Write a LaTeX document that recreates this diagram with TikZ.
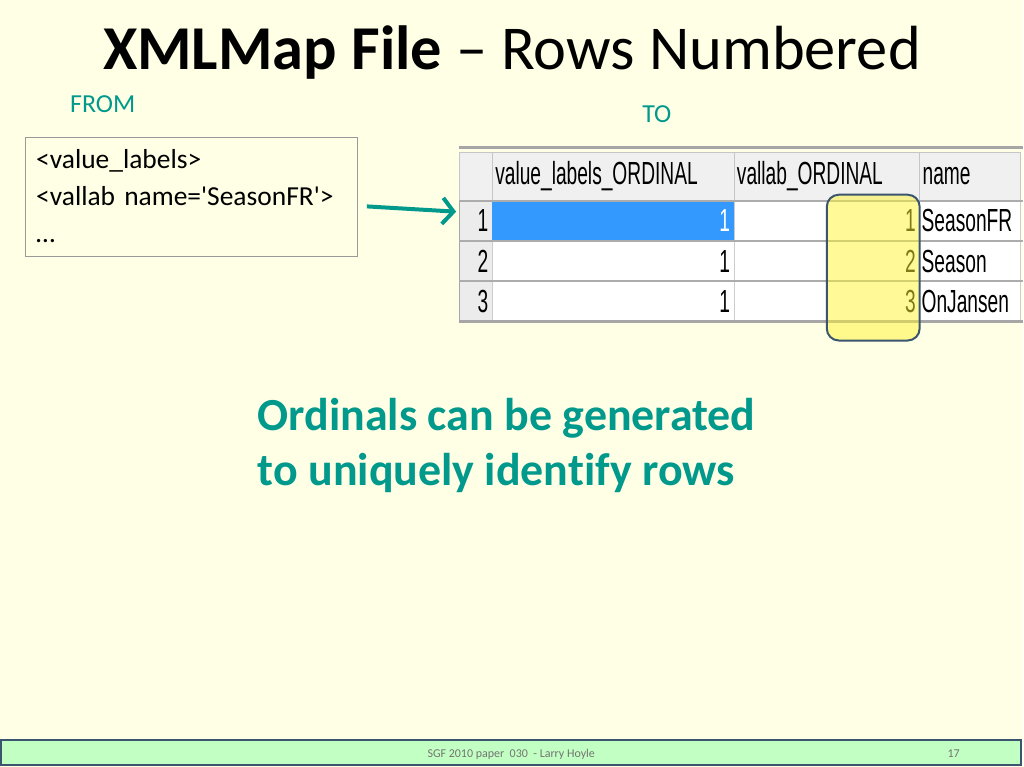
\documentclass[tikz,border=0pt]{standalone}
\usepackage{fontspec}
\setmainfont{Carlito}[Ligatures={TeX,NoCommon}]
\newfontfamily\gridfont[FakeStretch=0.6]{Liberation Sans}
\usetikzlibrary{arrows.meta}
\definecolor{slidebg}{RGB}{255,255,229}
\definecolor{tealtext}{RGB}{0,153,140}
\definecolor{footgreen}{RGB}{194,255,194}
\definecolor{slateline}{RGB}{60,85,110}
\definecolor{selblue}{RGB}{51,153,255}
\begin{document}
\begin{tikzpicture}[x=1pt,y=-1pt,
    hdrcell/.style={draw=gray!45,fill=gray!12,minimum height=48,inner xsep=3,anchor=center,font=\gridfont\fontsize{32}{32}\selectfont},
    numcell/.style={draw=gray!70,fill=gray!15,minimum height=40,inner xsep=4,text width=25,align=right,font=\gridfont\fontsize{32}{32}\selectfont},
    datacell/.style={draw=gray!40,fill=white,minimum height=40,inner xsep=4,font=\gridfont\fontsize{32}{32}\selectfont}]
        \fill[slidebg](0,0)rectangle(1024,768);
        \node[anchor=base west,inner sep=0,font=\fontsize{62.5}{70}\selectfont](title)at(103,70){\textbf{XMLMap File} – Rows Numbered};
        \node[anchor=base west,inner sep=0,text=tealtext,font=\fontsize{26}{30}\selectfont](from)at(70,113){FROM};
        \node[anchor=base west,inner sep=0,text=tealtext,font=\fontsize{26}{30}\selectfont](to)at(643,123){TO};
        \node[draw=gray!80,fill=slidebg,anchor=north west,minimum width=333,minimum height=119,inner xsep=11,inner ysep=1,align=left,text width=311,font=\fontsize{27.5}{37}\selectfont](xmlbox)at(25,137){<value\_labels>\\<vallab name=\textquotesingle SeasonFR\textquotesingle>\\…};
        % grid
        \node[hdrcell,minimum width=33](h0)at(476.5,176){};
        \node[hdrcell,minimum width=242,text width=236,align=left](h1)at(614,176){\raisebox{-3pt}{value\_labels\_ORDINAL}};
        \node[hdrcell,minimum width=186,text width=180,align=left](h2)at(828,176){\raisebox{-3pt}{vallab\_ORDINAL}};
        \node[hdrcell,minimum width=101,text width=95,align=left](h3)at(971.5,176){\raisebox{-3pt}{name}};
        \foreach \i/\y/\n in {1/221/SeasonFR,2/261.5/Season,3/301.5/OnJansen}{
            \node[numcell,minimum width=33](r\i)at(476.5,\y){\i};
            \node[datacell,minimum width=242,text width=234,align=right](v\i)at(614,\y){1};
            \node[datacell,minimum width=186,text width=178,align=right](o\i)at(828,\y){\i};
            \node[datacell,minimum width=101,text width=97,inner xsep=2,align=left](n\i)at(971.5,\y){\n};
        }
        \fill[selblue](v1.north west)rectangle(v1.south east);
        \node[anchor=east,inner sep=0,font=\gridfont\fontsize{32}{32}\selectfont,text=white]at([xshift=-4]v1.east){1};
        \foreach \y in {201,241,281.5}\draw[gray!65,line width=2](460,\y)--(1024,\y);
        \draw[gray!70,line width=3](460,148)--(1024,148);
        \draw[gray!70,line width=3](460,322)--(1024,322);
        \node[draw=slateline,line width=2,fill=yellow!80,fill opacity=0.5,rounded corners=12,minimum width=93,minimum height=146](ordinals)at(874.5,268){};
        \draw[-{Straight Barb[length=11,width=26]},tealtext,line width=4]([shift={(9,10)}]xmlbox.east)--([shift={(-3,-9)}]r1.west);
        \node[anchor=base west,inner sep=0,align=left,text=tealtext,font=\bfseries\fontsize{46}{55}\selectfont](note)at(258,486){Ordinals can be generated\\to uniquely identify rows};
        % footer
        \node[draw=slateline,line width=2,fill=footgreen,minimum width=1021,minimum height=25,inner sep=0](footer)at(512,753.5){};
        \node[text=gray!90!black,font=\fontsize{12}{14}\selectfont](foottext)at(512,755){SGF 2010 paper\ \ 030\ \ - Larry Hoyle};
        \node[text=gray!90!black,font=\fontsize{12}{14}\selectfont](pagenum)at(955,755){17};
    \end{tikzpicture}
\end{document}
